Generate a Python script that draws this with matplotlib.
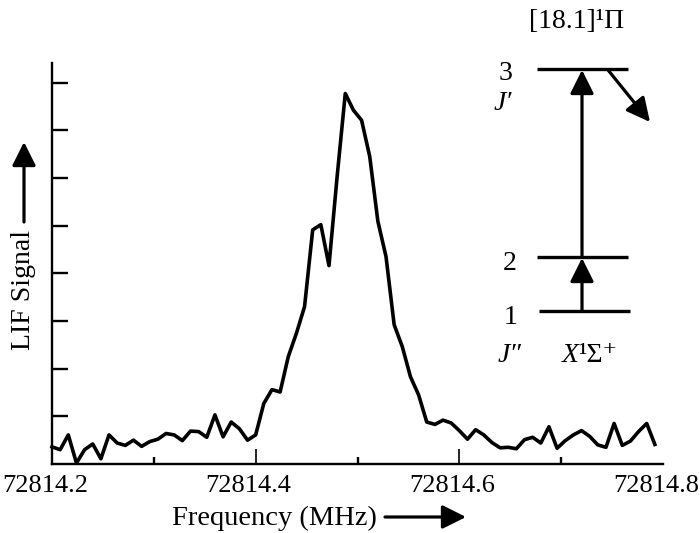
import numpy as np
import matplotlib
matplotlib.use("Agg")
from matplotlib import pyplot as plt
from matplotlib.patches import ArrowStyle
from matplotlib.transforms import ScaledTranslation, blended_transform_factory

plt.rcParams['font.family'] = ['Liberation Serif', 'DejaVu Serif']

# scan grid (MHz) and LIF signal
freq_start = 72814.2
freq_step = 0.008
signal = [0.36, 0.30, 0.61, 0.02, 0.30, 0.42, 0.11, 0.61, 0.44, 0.39,
          0.50, 0.37, 0.47, 0.52, 0.64, 0.61, 0.49, 0.69, 0.68, 0.56,
          1.03, 0.57, 0.88, 0.74, 0.50, 0.61, 1.27, 1.56, 1.51, 2.25,
          2.74, 3.30, 4.91, 5.02, 4.16, 6.03, 7.77, 7.42, 7.21, 6.45,
          5.09, 4.35, 2.92, 2.46, 1.83, 1.45, 0.88, 0.83, 0.92, 0.86,
          0.70, 0.52, 0.72, 0.61, 0.45, 0.34, 0.35, 0.32, 0.51, 0.56,
          0.44, 0.78, 0.33, 0.49, 0.61, 0.70, 0.58, 0.40, 0.35, 0.85,
          0.39, 0.48, 0.68, 0.85, 0.41]
freq = freq_start + freq_step * np.arange(len(signal))

xticks = [72814.2, 72814.4, 72814.6, 72814.8]
xtick_labels = ['72814.2', '72814.4', '72814.6', '72814.8']
xminor = [72814.3, 72814.5, 72814.7]
yticks = [1, 2, 3, 4, 5, 6, 7, 8]

fig = plt.figure(figsize=(7, 5.33), dpi=100)
ax = fig.add_axes([52 / 700, 69 / 533, 611 / 700, 401 / 533])
ax.plot(freq, signal, color='black', lw=2.6, clip_on=False)
ax.set_xlim(72814.2, 72814.8)
ax.set_ylim(0, 8.41)

for s in ['top', 'right']:
    ax.spines[s].set_visible(False)
for s in ['left', 'bottom']:
    ax.spines[s].set_linewidth(1.7)

ax.set_yticks(yticks)
ax.tick_params(axis='y', direction='in', length=11.5, width=1.7, labelleft=False)
ax.set_xticks(xticks)
ax.set_xticks(xminor, minor=True)
ax.tick_params(axis='x', which='major', direction='in', length=11, width=1.2,
               labelbottom=False)
ax.tick_params(axis='x', which='minor', direction='in', length=5, width=1.7)
ax.xaxis.get_major_ticks()[-1].tick1line.set_visible(False)

# tick labels sit a little left of their ticks in the original
shift = ScaledTranslation(-0.07, 0, fig.dpi_scale_trans)
xlab_trans = blended_transform_factory(ax.transData, ax.transAxes) + shift
for t, lab in zip(xticks, xtick_labels):
    ax.text(t, -0.055, lab, transform=xlab_trans, fontsize=19,
            ha='center', va='center', clip_on=False)

# overlay in pixel coordinates for labels and level diagram
ov = fig.add_axes([0, 0, 1, 1])
ov.set_xlim(0, 700)
ov.set_ylim(533, 0)
ov.axis('off')

head = ArrowStyle('-|>', head_length=0.72, head_width=0.36)


def arrow(x0, y0, x1, y1):
    ov.annotate('', xy=(x1, y1), xytext=(x0, y0),
                arrowprops=dict(arrowstyle=head, mutation_scale=20, lw=2.3,
                                color='black', shrinkA=0, shrinkB=0))


ov.text(274, 518, 'Frequency (MHz)', fontsize=20.5, ha='center', va='center')
arrow(385, 517, 466, 517)
ov.text(23, 290, 'LIF Signal', fontsize=20, rotation=90, ha='center', va='center')
arrow(24, 222, 24, 142)

# energy levels
for y, x0, x1 in [(69, 537, 628), (257, 537, 628), (311, 539, 630)]:
    ov.plot([x0, x1], [y, y], color='black', lw=2.4, solid_capstyle='butt')
arrow(582, 257, 582, 70)
arrow(582, 311, 582, 258)
arrow(608, 70, 650, 122)

ov.text(577, 22, '[18.1]\u00b9\u03a0', fontsize=20, ha='center', va='center')
ov.text(579, 355, 'X', fontsize=20, style='italic', ha='right', va='center')
ov.text(578, 355, '\u00b9\u03a3\u207a', fontsize=20, ha='left', va='center')
ov.text(505, 73, '3', fontsize=20, ha='center', va='center')
ov.text(510, 264, '2', fontsize=20, ha='center', va='center')
ov.text(511, 318, '1', fontsize=20, ha='center', va='center')
ov.text(503, 104, 'J\u2032', fontsize=20, style='italic', ha='center', va='center')
ov.text(510, 355, 'J\u2033', fontsize=20, style='italic', ha='center', va='center')

fig.savefig('out.png', dpi=100)
